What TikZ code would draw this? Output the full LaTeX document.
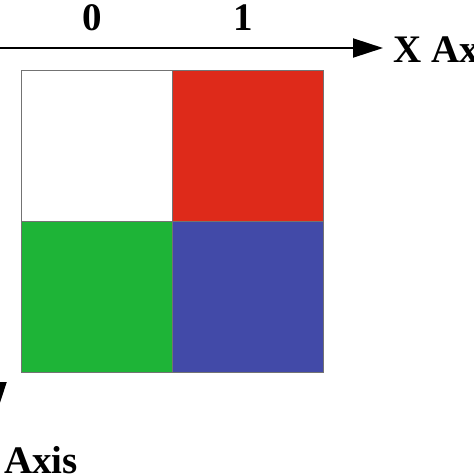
\documentclass[tikz,border=0pt]{standalone}
\usepackage{fontspec}
\setmainfont{Liberation Serif}
\usetikzlibrary{arrows.meta}
\definecolor{cellred}{RGB}{222,42,26}
\definecolor{cellgreen}{RGB}{30,180,55}
\definecolor{cellblue}{RGB}{66,74,168}
\tikzset{
  cell/.style={draw=black!55, line width=0.9pt, minimum width=151pt, minimum height=151pt, inner sep=0pt, anchor=north west},
  lbl/.style={font=\fontsize{39}{45}\selectfont\bfseries, inner sep=0pt},
  axisarrow/.style={line width=2pt, -{Triangle[length=30pt,width=19pt]}}
}
\begin{document}
\begin{tikzpicture}[x=1pt,y=-1pt]
\useasboundingbox (0,0) rectangle (474,474);
\node[cell, fill=white] (c00) at (21,70) {};
\node[cell, fill=cellred] (c10) at (172,70) {};
\node[cell, fill=cellgreen] (c01) at (21,221) {};
\node[cell, fill=cellblue] (c11) at (172,221) {};
\node[lbl, anchor=base] (l0) at (92,30) {0};
\node[lbl, anchor=base] (l1) at (243,30) {1};
\coordinate (xs) at (-20,48);
\coordinate (xe) at (383,48);
\draw[axisarrow] (xs) -- (xe);
\node[lbl, anchor=base west] (xlab) at (393,62) {X Axis};
\coordinate (ys) at (-3,300);
\coordinate (ye) at (-3,412);
\draw[axisarrow] (ys) -- (ye);
\node[lbl, anchor=base west] (ylab) at (-34,473) {Y Axis};
\end{tikzpicture}
\end{document}
